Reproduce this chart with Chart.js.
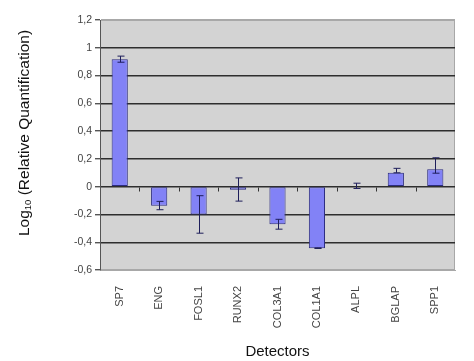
<!DOCTYPE html>
<html>
<head>
<meta charset="utf-8">
<script src="https://cdn.jsdelivr.net/npm/chart.js@4/dist/chart.umd.min.js"></script>
<style>
  html, body { margin: 0; padding: 0; background: #fff; }
  #wrap { width: 474px; height: 361px; }
</style>
</head>
<body>
<div id="wrap"><canvas id="qChart" width="474" height="361"></canvas></div>
<script>
// detectors and log10 relative quantification values
const detectors = ['SP7', 'ENG', 'FOSL1', 'RUNX2', 'COL3A1', 'COL1A1', 'ALPL', 'BGLAP', 'SPP1'];
const logRQ = [0.918, -0.138, -0.20, -0.022, -0.27, -0.443, -0.005, 0.10, 0.125];
const errUp = [0.022, 0.032, 0.135, 0.085, 0.035, 0.002, 0.03, 0.032, 0.083];
const errDown = [0.022, 0.028, 0.135, 0.082, 0.036, 0.002, 0.008, 0.0, 0.028];
const yTicks = { min: -0.6, max: 1.2, step: 0.2 };

const fmt = v => String(Number(v.toFixed(1))).replace('.', ',');

// grey plot area + light frame
const plotBg = {
  id: 'plotBg',
  beforeDraw(chart) {
    const { ctx, chartArea: a } = chart;
    ctx.save();
    ctx.fillStyle = '#d3d3d3';
    ctx.fillRect(a.left, a.top, a.right - a.left, a.bottom - a.top);
    ctx.strokeStyle = '#a8a8a8';
    ctx.lineWidth = 1;
    ctx.strokeRect(a.left + 0.5, a.top + 0.5, a.right - a.left - 1, a.bottom - a.top - 1);
    ctx.restore();
  }
};

// little category ticks hanging below the zero line
const zeroTicks = {
  id: 'zeroTicks',
  afterDatasetsDraw(chart) {
    const { ctx, scales: { x, y } } = chart;
    const y0 = Math.round(y.getPixelForValue(0)) + 0.5;
    ctx.save();
    ctx.strokeStyle = '#333';
    ctx.lineWidth = 1;
    ctx.beginPath();
    for (let i = 1; i < detectors.length; i++) {
      const px = Math.round((x.getPixelForValue(i - 1) + x.getPixelForValue(i)) / 2) + 0.5;
      ctx.moveTo(px, y0);
      ctx.lineTo(px, y0 + 4);
    }
    ctx.stroke();
    ctx.restore();
  }
};

// error bars from the arrays above
const errorBars = {
  id: 'errorBars',
  afterDatasetsDraw(chart) {
    const { ctx, scales: { y } } = chart;
    const meta = chart.getDatasetMeta(0);
    ctx.save();
    ctx.strokeStyle = '#1e1e5a';
    ctx.lineWidth = 1;
    meta.data.forEach((bar, i) => {
      const cx = Math.round(bar.x) + 0.5;
      const top = y.getPixelForValue(logRQ[i] + errUp[i]);
      const bot = y.getPixelForValue(logRQ[i] - errDown[i]);
      ctx.beginPath();
      ctx.moveTo(cx, top); ctx.lineTo(cx, bot);
      ctx.moveTo(cx - 3, top); ctx.lineTo(cx + 4, top);
      ctx.moveTo(cx - 3, bot); ctx.lineTo(cx + 4, bot);
      ctx.stroke();
    });
    ctx.restore();
  }
};

// y title with subscript 10
const yTitle = {
  id: 'yTitle',
  afterDraw(chart) {
    const { ctx, chartArea: a } = chart;
    const big = '15.5px "Liberation Sans", Arial, sans-serif';
    const small = '9.5px "Liberation Sans", Arial, sans-serif';
    const parts = [['Log', big, 0], ['10', small, 3], [' (Relative Quantification)', big, 0]];
    let total = 0;
    parts.forEach(p => { ctx.font = p[1]; total += ctx.measureText(p[0]).width; });
    ctx.save();
    ctx.translate(25, (a.top + a.bottom) / 2 - 12);
    ctx.rotate(-Math.PI / 2);
    ctx.fillStyle = '#111';
    ctx.textBaseline = 'middle';
    let xPos = -total / 2;
    parts.forEach(p => {
      ctx.font = p[1];
      ctx.fillText(p[0], xPos, p[2]);
      xPos += ctx.measureText(p[0]).width;
    });
    ctx.restore();
  }
};

new Chart(document.getElementById('qChart'), {
  type: 'bar',
  data: {
    labels: detectors,
    datasets: [{
      data: logRQ,
      backgroundColor: '#8282f6',
      borderColor: '#2c2c80',
      borderWidth: 1,
      borderSkipped: false,
      categoryPercentage: 1,
      barPercentage: 0.41
    }]
  },
  options: {
    responsive: false,
    animation: false,
    layout: { padding: { top: 20, right: 19, left: 0, bottom: 0 } },
    plugins: { legend: { display: false }, tooltip: { enabled: false } },
    scales: {
      x: {
        afterFit: s => { s.height = 91; },
        grid: { display: false },
        border: { display: true, color: '#a8a8a8' },
        ticks: {
          maxRotation: 90, minRotation: 90, padding: 8, autoSkip: false,
          color: '#444',
          font: { family: '"Liberation Sans", Arial, sans-serif', size: 11 }
        },
        title: {
          display: true, text: 'Detectors', color: '#111',
          padding: { top: 0, bottom: 0 },
          font: { family: '"Liberation Sans", Arial, sans-serif', size: 15 }
        }
      },
      y: {
        min: yTicks.min, max: yTicks.max,
        afterFit: s => { s.width = 100; },
        border: { display: true, color: '#555', width: 1 },
        grid: {
          color: c => (c.tick && (c.tick.value >= 1.19 || c.tick.value <= -0.59)) ? '#a8a8a8' : '#2e2e2e',
          tickColor: '#555',
          lineWidth: 1.4,
          tickLength: 5
        },
        ticks: {
          stepSize: yTicks.step, padding: 3, color: '#444',
          font: { family: '"Liberation Sans", Arial, sans-serif', size: 10.5 },
          callback: v => fmt(v)
        }
      }
    }
  },
  plugins: [plotBg, zeroTicks, errorBars, yTitle]
});
</script>
</body>
</html>
